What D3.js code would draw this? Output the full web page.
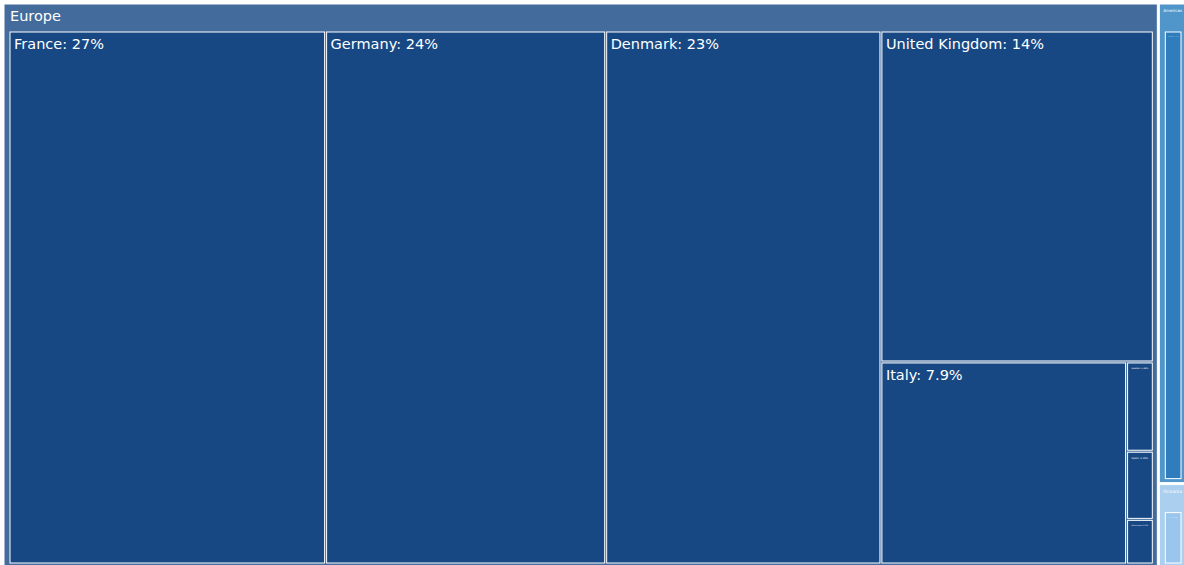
<!DOCTYPE html>
<html>
<head>
<meta charset="utf-8">
<script src="https://cdn.jsdelivr.net/npm/d3@7"></script>
<style>
  body { margin: 0; background: #fff; }
  text { font-family: "DejaVu Sans", sans-serif; fill: #fff; }
</style>
</head>
<body>
<svg id="chart"></svg>
<script>
const width = 1184,
    height = 565;

// regions and their countries
const regions = ["Europe", "Americas", "Oceania"];
const countries = ["France", "Germany", "Denmark", "United Kingdom", "Italy", "Sweden", "Spain", "Netherlands", "United States", "Australia"];
const countryRegion = ["Europe", "Europe", "Europe", "Europe", "Europe", "Europe", "Europe", "Europe", "Americas", "Oceania"];
const shares = [26.86, 23.76, 23.35, 14.35, 7.9, 0.38, 0.29, 0.19, 2.05, 0.36];

const regionColor = {Europe: "#436b9c", Americas: "#5096cb", Oceania: "#abd0ef"};
const leafColor = {Europe: "#174883", Americas: "#2f7dbd", Oceania: "#9ac5ec"};

const fontSize = 14.5;

let tree = {
    name: "root",
    children: regions.map(r => ({
        name: r,
        children: countries.map((c, i) => ({name: c, region: countryRegion[i], value: shares[i]}))
            .filter(d => d.region == r)
    }))
};

let root = d3.hierarchy(tree).sum(d => d.value || 0).sort((a, b) => b.value - a.value);
let total = root.value;

d3.treemap()
    .tile(d3.treemapSquarify.ratio(1))
    .size([width - 4 + 2, height - 4 + 2])
    .paddingInner(2)
    .paddingTop(d => d.depth == 1 ? 28 : 0)
    .paddingLeft(d => d.depth == 1 ? 6 : 0)
    .paddingRight(d => d.depth == 1 ? 5 : 0)
    .paddingBottom(d => d.depth == 1 ? 4 : 0)
    (root);

let svg = d3.select("#chart").attr("width", width).attr("height", height);
let g = svg.append("g").attr("transform", "translate(4,4)");

let fmt = d3.format(".2~p");

let nodes = g.selectAll(".node")
    .data(root.descendants().filter(d => d.depth > 0))
    .join("g")
    .attr("class", "node")
    .attr("transform", d => `translate(${d.x0},${d.y0})`);

nodes.append("rect")
    .attr("width", d => Math.max(0, d.x1 - d.x0))
    .attr("height", d => Math.max(0, d.y1 - d.y0))
    .attr("fill", d => d.depth == 1 ? regionColor[d.data.name] : leafColor[d.data.region])
    .attr("stroke", "#fff")
    .attr("stroke-width", 1);

nodes.append("text")
    .text(d => d.depth == 1 ? d.data.name : `${d.data.name}: ${fmt(d.value / total)}`)
    .attr("font-size", fontSize)
    .each(function(d) {
        // shrink labels that do not fit their box
        let w = d.x1 - d.x0 - 8;
        let len = this.getComputedTextLength();
        let size = fontSize;
        if (len > w) size = Math.max(1, fontSize * w / len);
        let small = size < fontSize;
        d3.select(this).attr("font-size", size)
            .attr("x", small ? (d.x1 - d.x0 - len * size / fontSize) / 2 : (d.depth == 1 ? 6 : 4))
            .attr("y", small ? 4 + size : 17);
    });
</script>
</body>
</html>
